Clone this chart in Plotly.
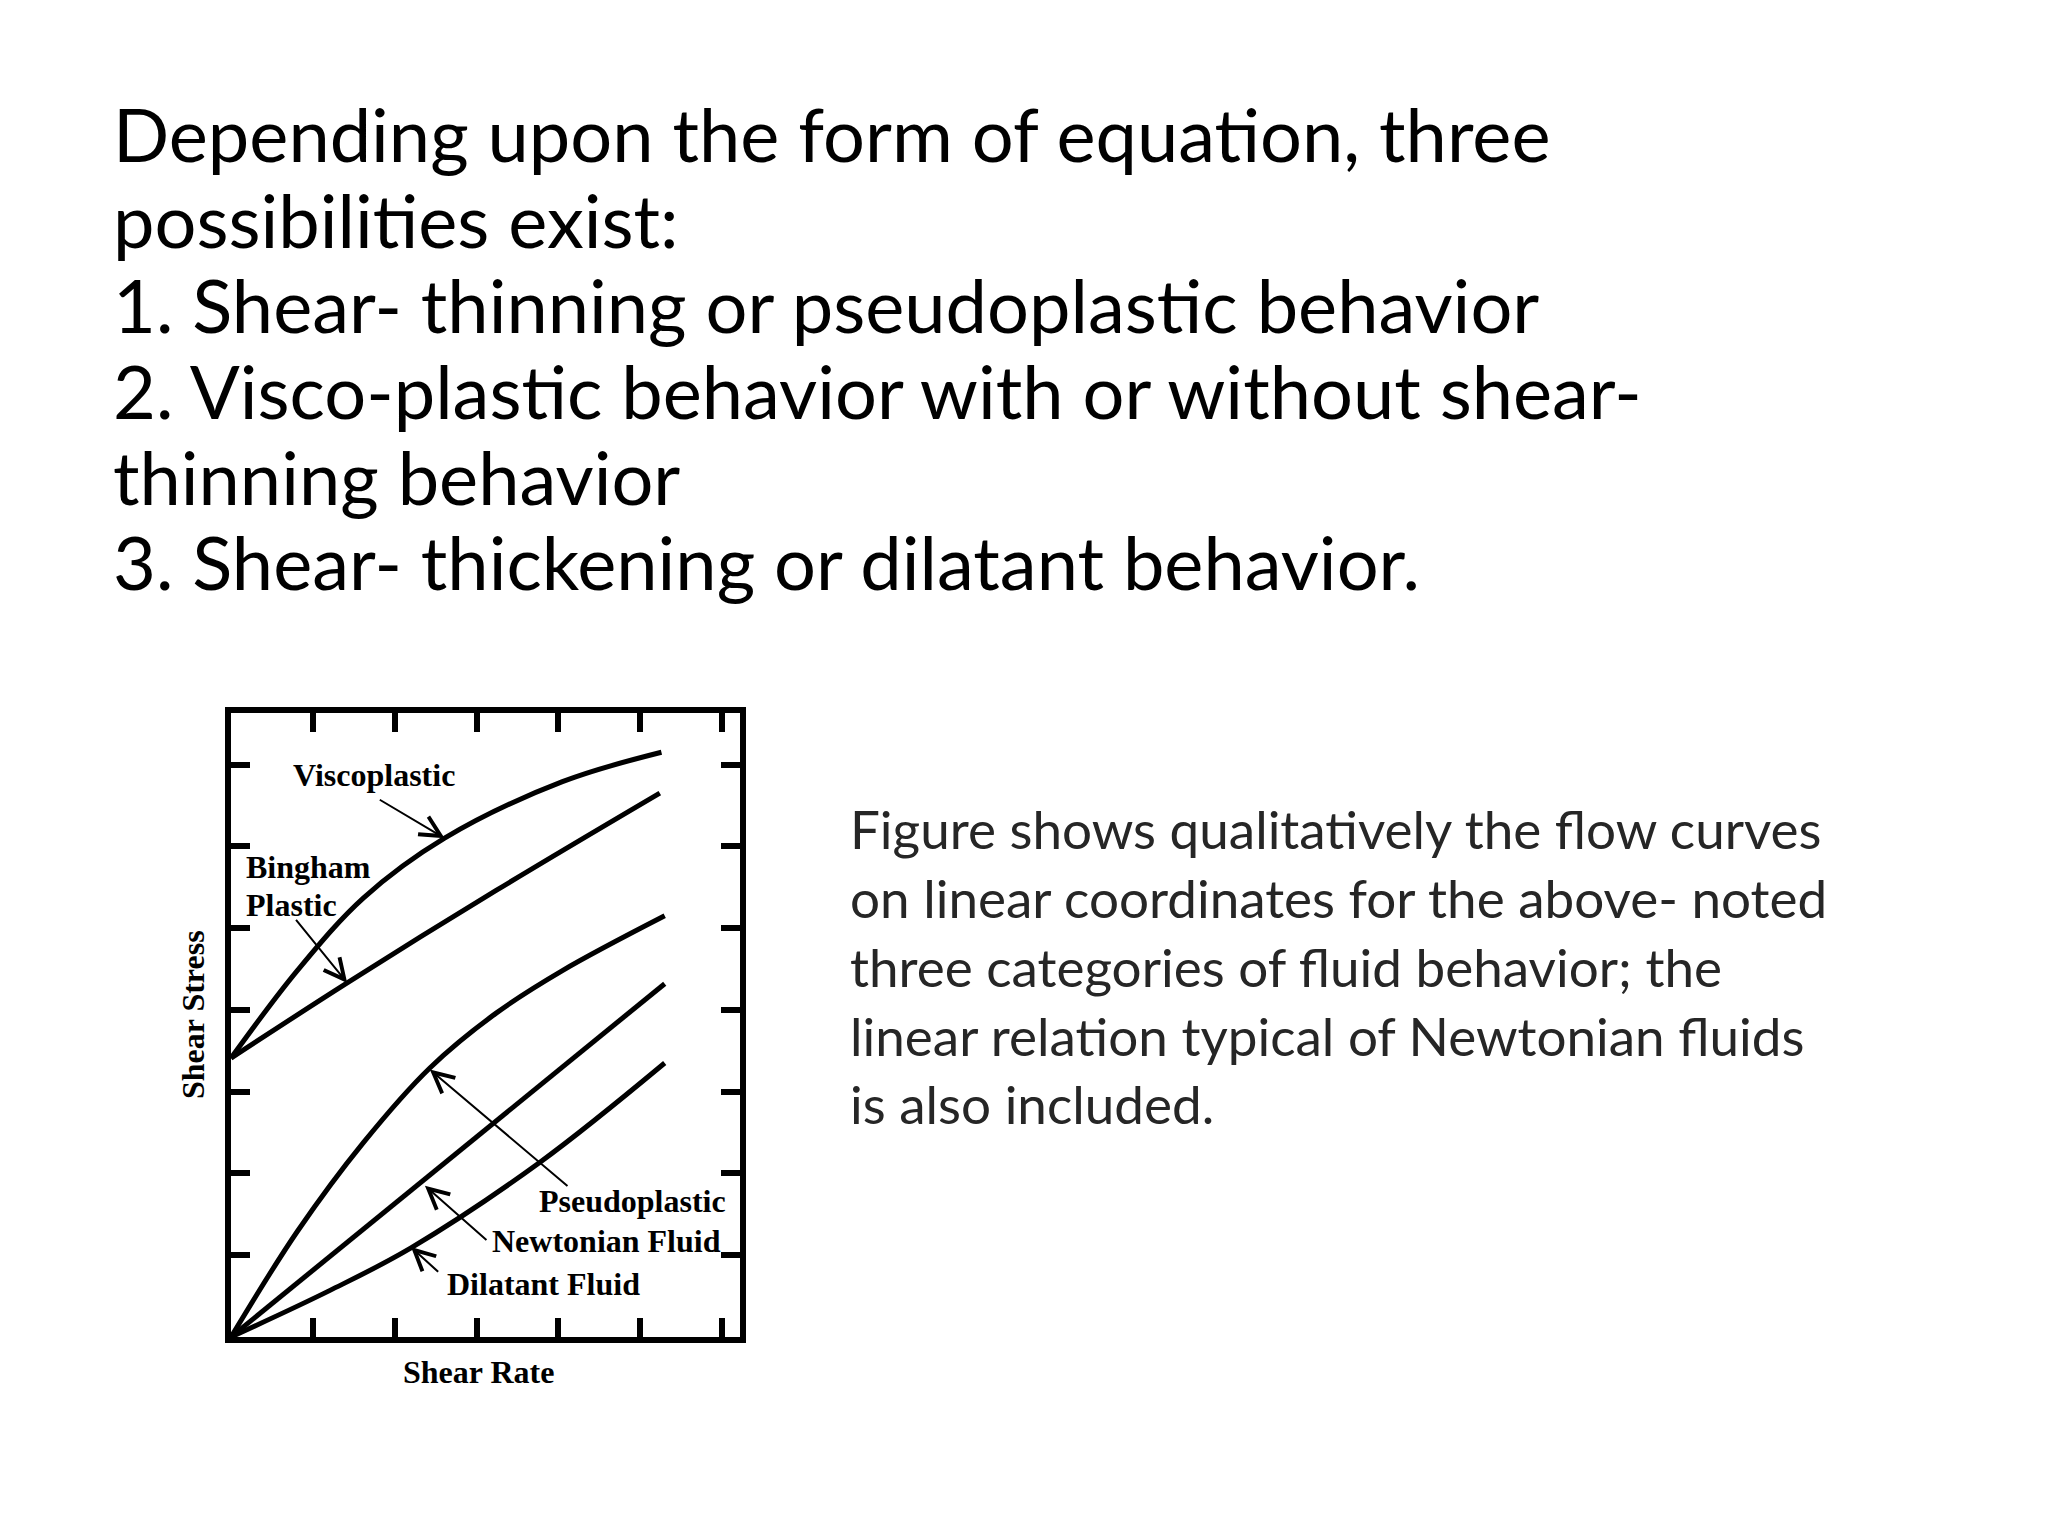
import plotly.graph_objects as go

# slide text
HEADING_LINES = [
    "Depending upon the form of equation, three",
    "possibilities exist:",
    "1. Shear- thinning or pseudoplastic behavior",
    "2. Visco-plastic behavior with or without shear-",
    "thinning behavior",
    "3. Shear- thickening or dilatant behavior.",
]
CAPTION_LINES = [
    "Figure shows qualitatively the flow curves",
    "on linear coordinates for the above- noted",
    "three categories of fluid behavior; the",
    "linear relation typical of Newtonian fluids",
    "is also included.",
]

# flow curves, shear rate vs shear stress (arbitrary units)
VISCO_X = [0, 0.81, 1.62, 2.61, 4.05, 5.26]
VISCO_Y = [3.41, 4.48, 5.37, 6.10, 6.79, 7.15]
BINGHAM_X = [0, 1.42, 3.24, 5.24]
BINGHAM_Y = [3.41, 4.33, 5.46, 6.65]
PSEUDO_X = [0, 0.81, 1.62, 2.43, 3.24, 4.05, 5.30]
PSEUDO_Y = [0, 1.29, 2.38, 3.29, 3.96, 4.48, 5.15]
NEWTON_X = [0, 5.30]
NEWTON_Y = [0, 4.32]
DILAT_X = [0, 1.21, 2.20, 3.78, 5.30]
DILAT_Y = [0, 0.57, 1.09, 2.14, 3.35]

X_TICKS = [1, 2, 3, 4, 5, 6]
Y_TICKS = [1, 2, 3, 4, 5, 6, 7]

W, H = 2048, 1536
HEAD_SIZE = 74
CAP_SIZE = 53
LBL_FONT = dict(family="Liberation Serif", size=32, color="black", weight="bold")


def px(x):
    return x / W


def py(y):
    return 1 - y / H


fig = go.Figure()

curves = [
    (VISCO_X, VISCO_Y, "spline"),
    (BINGHAM_X, BINGHAM_Y, "spline"),
    (PSEUDO_X, PSEUDO_Y, "spline"),
    (NEWTON_X, NEWTON_Y, "linear"),
    (DILAT_X, DILAT_Y, "spline"),
]
for xs, ys, shape in curves:
    fig.add_trace(go.Scatter(
        x=xs, y=ys, mode="lines",
        line=dict(color="black", width=5, shape=shape, smoothing=1.0, simplify=False),
        hoverinfo="skip",
    ))

annotations = []

# heading + caption, one annotation per line so the spacing is exact
for i, line in enumerate(HEADING_LINES):
    base = 162 + 85.7 * i
    annotations.append(dict(
        text=line, xref="paper", yref="paper", x=px(111), y=py(base - 0.387 * HEAD_SIZE),
        xanchor="left", yanchor="middle", showarrow=False,
        font=dict(family="Lato", size=HEAD_SIZE, color="black"),
    ))
for i, line in enumerate(CAPTION_LINES):
    base = 849.5 + 68.75 * i
    annotations.append(dict(
        text=line, xref="paper", yref="paper", x=px(848), y=py(base - 0.387 * CAP_SIZE),
        xanchor="left", yanchor="middle", showarrow=False,
        font=dict(family="Lato", size=CAP_SIZE, color="#262626"),
    ))

# curve labels (data coords)
labels = [
    ("Viscoplastic", 0.73, 6.87),
    ("Bingham", 0.16, 5.75),
    ("Plastic", 0.16, 5.28),
    ("Pseudoplastic", 3.74, 1.66),
    ("Newtonian Fluid", 3.16, 1.18),
    ("Dilatant Fluid", 2.62, 0.65),
]
for text, lx, ly in labels:
    annotations.append(dict(
        text=text, xref="x", yref="y", x=lx, y=ly, xanchor="left", yanchor="middle",
        showarrow=False, font=LBL_FONT,
    ))

# pointer arrows: (tip x, tip y, tail x, tail y)
arrows = [
    (2.61, 6.10, 1.80, 6.58),
    (1.42, 4.33, 0.78, 5.12),
    (2.43, 3.27, 4.13, 1.83),
    (2.37, 1.85, 3.14, 1.17),
    (2.20, 1.10, 2.55, 0.78),
]
for tx, ty, ax_, ay_ in arrows:
    annotations.append(dict(
        text="", x=tx, y=ty, ax=ax_, ay=ay_, xref="x", yref="y", axref="x", ayref="y",
        showarrow=True, arrowhead=5, arrowsize=2, arrowwidth=2, arrowcolor="black", standoff=0,
    ))

# axis titles
annotations.append(dict(
    text="Shear Rate", xref="paper", yref="paper", x=px(478), y=py(1372),
    xanchor="center", yanchor="middle", showarrow=False, font=LBL_FONT,
))
annotations.append(dict(
    text="Shear Stress", xref="paper", yref="paper", x=px(193), y=py(1015),
    xanchor="center", yanchor="middle", showarrow=False, textangle=-90, font=LBL_FONT,
))

frame = dict(
    showline=True, linewidth=6, linecolor="black", mirror="ticks",
    ticks="inside", ticklen=19, tickwidth=6, tickcolor="black",
    showticklabels=False, showgrid=False, zeroline=False, fixedrange=True,
)
fig.update_layout(
    width=W, height=H,
    margin=dict(l=0, r=0, t=0, b=0),
    paper_bgcolor="white", plot_bgcolor="white",
    showlegend=False,
    xaxis=dict(domain=[px(231), px(740)], range=[0, 6.22], tickvals=X_TICKS, **frame),
    yaxis=dict(domain=[py(1337), py(713)], range=[0, 7.63], tickvals=Y_TICKS, **frame),
    annotations=annotations,
)

# page body has a default 8px margin; drop it so the slide sits at 0,0
fig.write_html(
    "out.html",
    config={"displayModeBar": False},
    post_script="document.body.style.margin = '0';",
)
